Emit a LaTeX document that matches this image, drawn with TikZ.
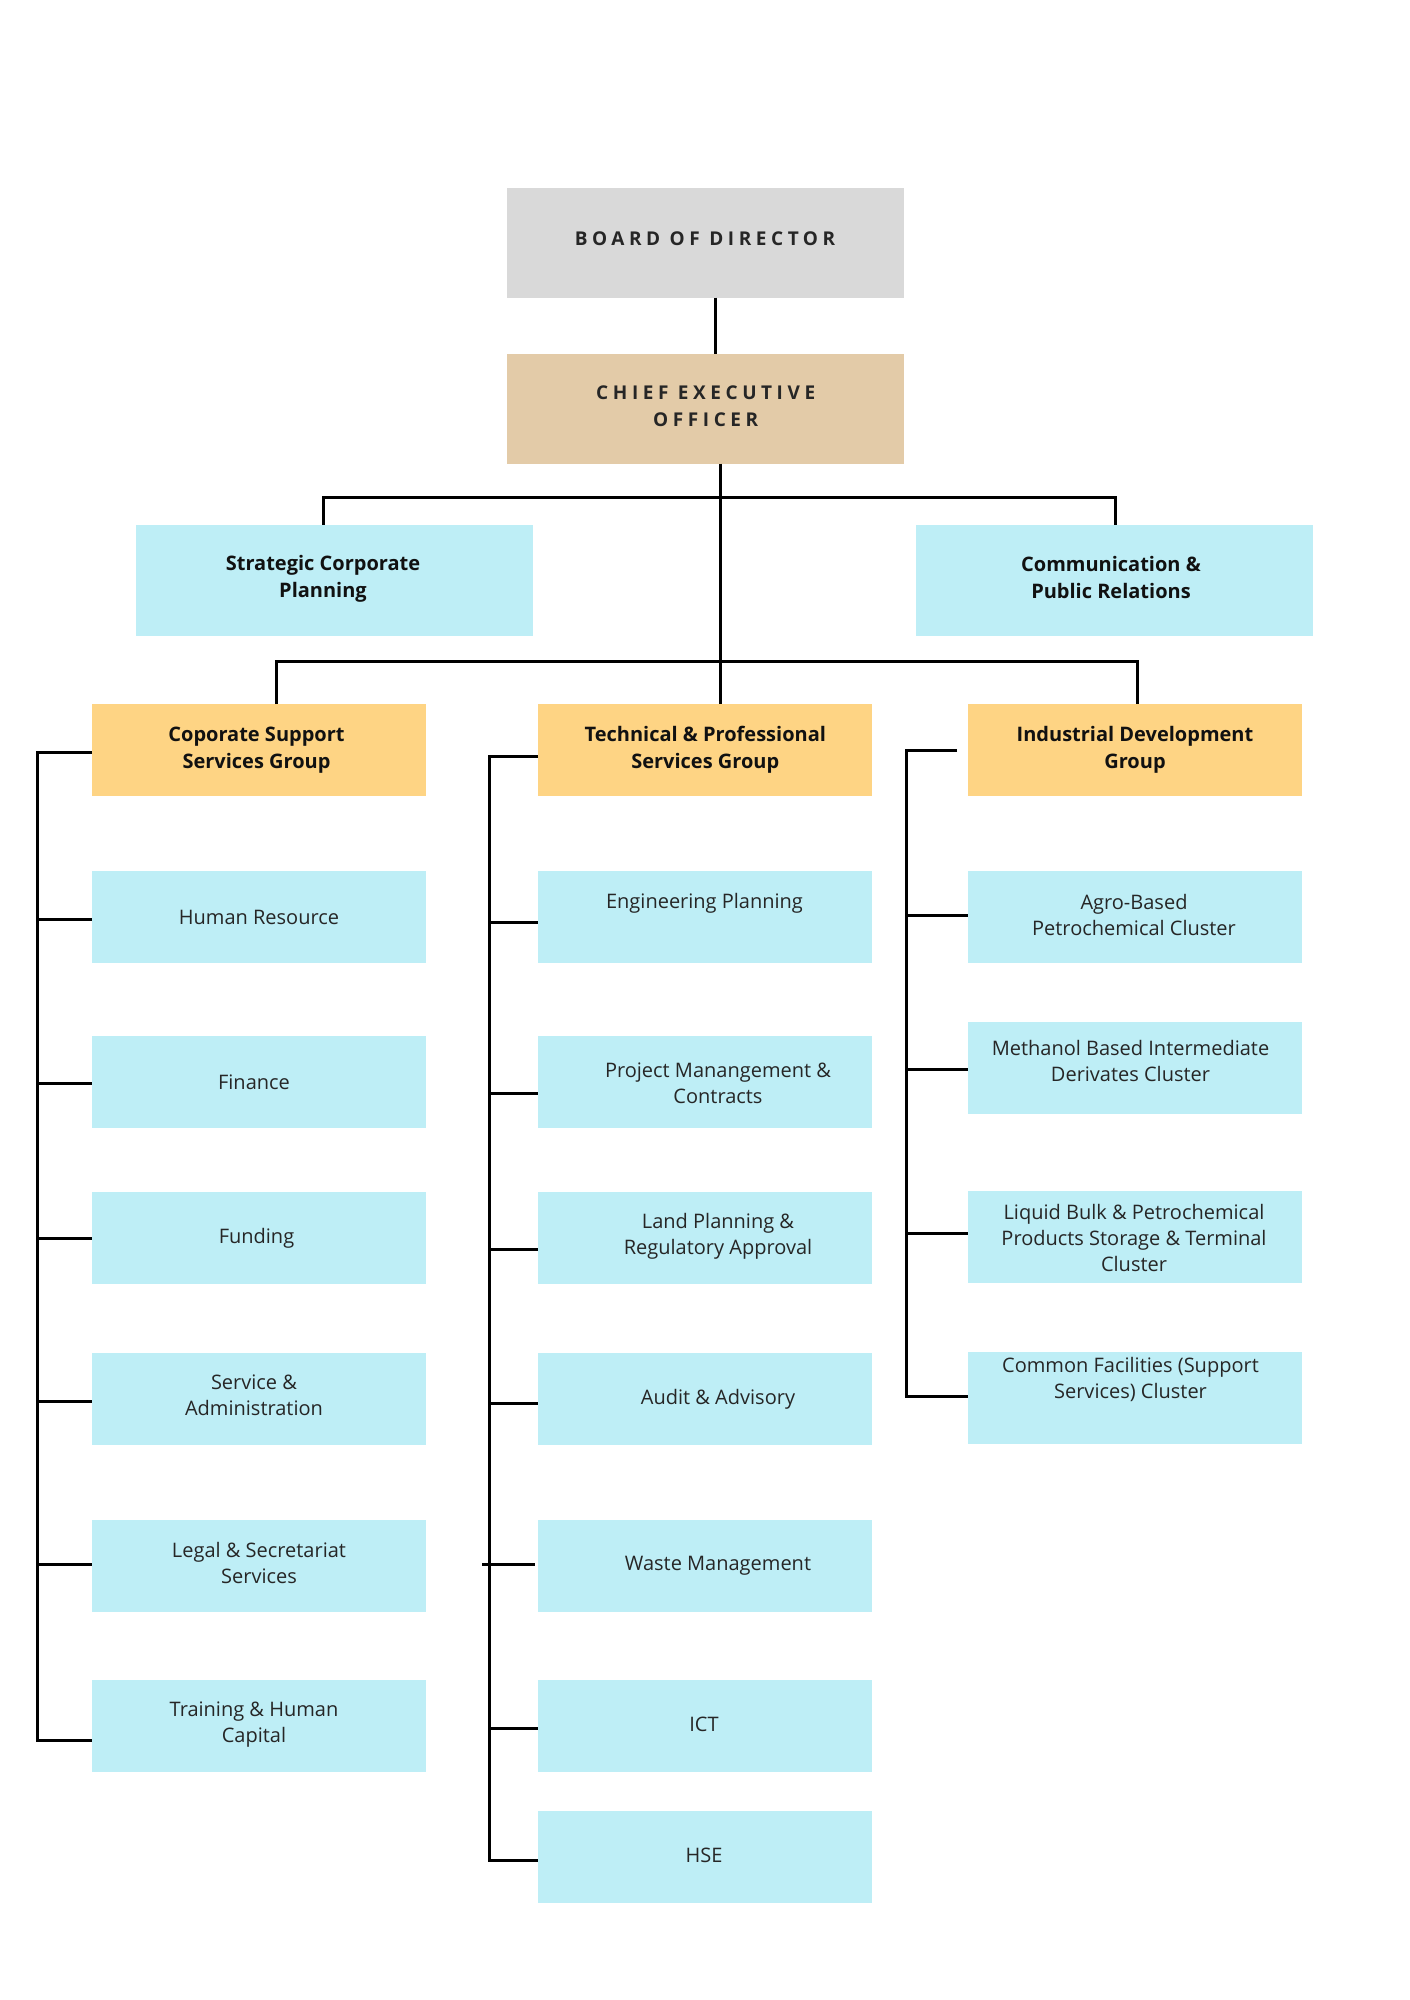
\documentclass[tikz,border=0pt]{standalone}
\usepackage{fontspec}
\setmainfont{Open Sans}
\usetikzlibrary{calc}
\definecolor{grayc}{HTML}{D9D9D9}
\definecolor{tanc}{HTML}{E3CBA8}
\definecolor{bluec}{HTML}{BEEEF6}
\definecolor{orangec}{HTML}{FED484}
\definecolor{txt}{HTML}{262626}
\definecolor{btxt}{HTML}{111111}
\begin{document}
\begin{tikzpicture}[x=1pt,y=-1pt,
  box/.style={inner sep=0pt, outer sep=0pt, draw=none},
  topbox/.style={box, minimum width=397pt, minimum height=110pt},
  sidebox/.style={box, fill=bluec, minimum width=397pt, minimum height=111pt},
  grpbox/.style={box, fill=orangec, minimum width=334pt, minimum height=92pt},
  cellbox/.style={box, fill=bluec, minimum width=334pt, minimum height=92pt},
  lbl/.style={align=center, text=txt, inner sep=0pt, font=\fontsize{20}{26}\selectfont},
  blbl/.style={align=center, text=btxt, inner sep=0pt, font=\fontsize{20}{27}\selectfont\bfseries},
  capslbl/.style={align=center, text=txt, inner sep=0pt, font=\fontsize{19}{27}\selectfont\bfseries\addfontfeatures{LetterSpace=24}},
  conn/.style={draw=black, line width=3pt}
]
\fill[white] (0,0) rectangle (1410,2000);
\useasboundingbox (0,0) rectangle (1410,2000);

% top boxes
\node[topbox, fill=grayc] (board) at (705.3,242.5) {};
\node[topbox, fill=tanc] (ceo) at (705.3,408.7) {};
\node[sidebox] (scp) at (334.5,580.3) {};
\node[sidebox] (comm) at (1114.5,580.3) {};
\node[grpbox] (csg) at (259,750) {};
\node[grpbox] (tps) at (705,750) {};
\node[grpbox] (idg) at (1135,750) {};

% left column
\node[cellbox] (hr) at (259,917) {};
\node[cellbox] (fin) at (259,1081.5) {};
\node[cellbox] (fund) at (259,1237.5) {};
\node[cellbox] (sa) at (259,1398.7) {};
\node[cellbox] (legal) at (259,1565.5) {};
\node[cellbox] (train) at (259,1726) {};

% middle column
\node[cellbox] (eng) at (705,917) {};
\node[cellbox] (pm) at (705,1081.5) {};
\node[cellbox] (land) at (705,1237.5) {};
\node[cellbox] (audit) at (705,1398.7) {};
\node[cellbox] (waste) at (705,1565.5) {};
\node[cellbox] (ict) at (705,1726) {};
\node[cellbox] (hse) at (705,1857) {};

% right column
\node[cellbox] (agro) at (1135,917) {};
\node[cellbox] (meth) at (1135,1067.5) {};
\node[cellbox] (liq) at (1135,1237) {};
\node[cellbox] (cf) at (1135,1397.7) {};

% labels
\node[capslbl] (t-board) at (705,239) {BOARD OF DIRECTOR};
\node[capslbl] (t-ceo) at (705.7,406.3) {CHIEF EXECUTIVE\\OFFICER};
\node[blbl] (t-scp) at (323,579) {Strategic Corporate\\Planning};
\node[blbl] (t-comm) at (1111,577.5) {Communication \&\\Public Relations};
\node[blbl] (t-csg) at (256.5,749.7) {Coporate Support\\Services Group};
\node[blbl] (t-tps) at (705.3,749.4) {Technical \& Professional\\Services Group};
\node[blbl] (t-idg) at (1135,749.4) {Industrial Development\\Group};

\node[lbl] (t-hr) at (259,917) {Human Resource};
\node[lbl] (t-fin) at (254,1082) {Finance};
\node[lbl] (t-fund) at (256.5,1238.3) {Funding};
\node[lbl] (t-sa) at (254,1395) {Service \&\\Administration};
\node[lbl] (t-legal) at (259,1562.5) {Legal \& Secretariat\\Services};
\node[lbl] (t-train) at (254,1725) {Training \& Human\\Capital};

\node[lbl] (t-eng) at (704.5,903) {Engineering Planning};
\node[lbl] (t-pm) at (718,1083) {Project Manangement \&\\Contracts};
\node[lbl] (t-land) at (718,1236.5) {Land Planning \&\\Regulatory Approval};
\node[lbl] (t-audit) at (718,1399) {Audit \& Advisory};
\node[lbl] (t-waste) at (718,1566) {Waste Management};
\node[lbl] (t-ict) at (704,1724) {ICT};
\node[lbl] (t-hse) at (704,1855.5) {HSE};

\node[lbl] (t-agro) at (1134,914.5) {Agro-Based\\Petrochemical Cluster};
\node[lbl] (t-meth) at (1130.5,1060.5) {Methanol Based Intermediate\\Derivates Cluster};
\node[lbl] (t-liq) at (1134,1237.5) {Liquid Bulk \& Petrochemical\\Products Storage \& Terminal\\Cluster};
\node[lbl] (t-cf) at (1130.5,1379.5) {Common Facilities (Support\\Services) Cluster};

% connector coordinates
\coordinate (bc) at (715,0);
\coordinate (tr) at (720,0);
\coordinate (d1) at (323.5,497.5);
\coordinate (d2) at (1115.5,497.5);
\coordinate (d3) at (276.5,661);
\coordinate (d4) at (1137,661);

\draw[conn] (board.south -| bc) -- (ceo.north -| bc);
\draw[conn] (ceo.south -| tr) -- (tps.north -| tr);
\draw[conn] (scp.north -| d1) -- (d1) -- (d2) -- (comm.north -| d2);
\draw[conn] (csg.north -| d3) -- (d3) -- (d4) -- (idg.north -| d4);

% left bracket
\coordinate (Ltop) at (37.5,752.5);
\coordinate (Lbot) at (37.5,1740);
\draw[conn] (Ltop -| csg.west) -- (Ltop) -- (Lbot) -- (Lbot -| train.west);
\foreach \n/\yy in {hr/919, fin/1083.3, fund/1238, sa/1401.5, legal/1564.5}{
  \coordinate (L-\n) at (37.5,\yy);
  \draw[conn] (L-\n) -- (L-\n -| \n.west);
}

% middle bracket
\coordinate (Mtop) at (489,756.5);
\coordinate (Mbot) at (489,1860);
\draw[conn] (Mtop -| tps.west) -- (Mtop) -- (Mbot) -- (Mbot -| hse.west);
\foreach \n/\yy in {eng/922.5, pm/1093.5, land/1249.5, audit/1403.5, ict/1728}{
  \coordinate (M-\n) at (489,\yy);
  \draw[conn] (M-\n) -- (M-\n -| \n.west);
}
\coordinate (M-wa) at (482,1564.5);
\coordinate (M-wb) at (535,1564.5);
\draw[conn] (M-wa) -- (M-wb);

% right bracket
\coordinate (Rend) at (957,750.5);
\coordinate (Rtop) at (906.5,750.5);
\coordinate (Rbot) at (906.5,1396.3);
\draw[conn] (Rend) -- (Rtop) -- (Rbot) -- (Rbot -| cf.west);
\foreach \n/\yy in {agro/915.5, meth/1069.8, liq/1233.6}{
  \coordinate (R-\n) at (906.5,\yy);
  \draw[conn] (R-\n) -- (R-\n -| \n.west);
}
\end{tikzpicture}
\end{document}
